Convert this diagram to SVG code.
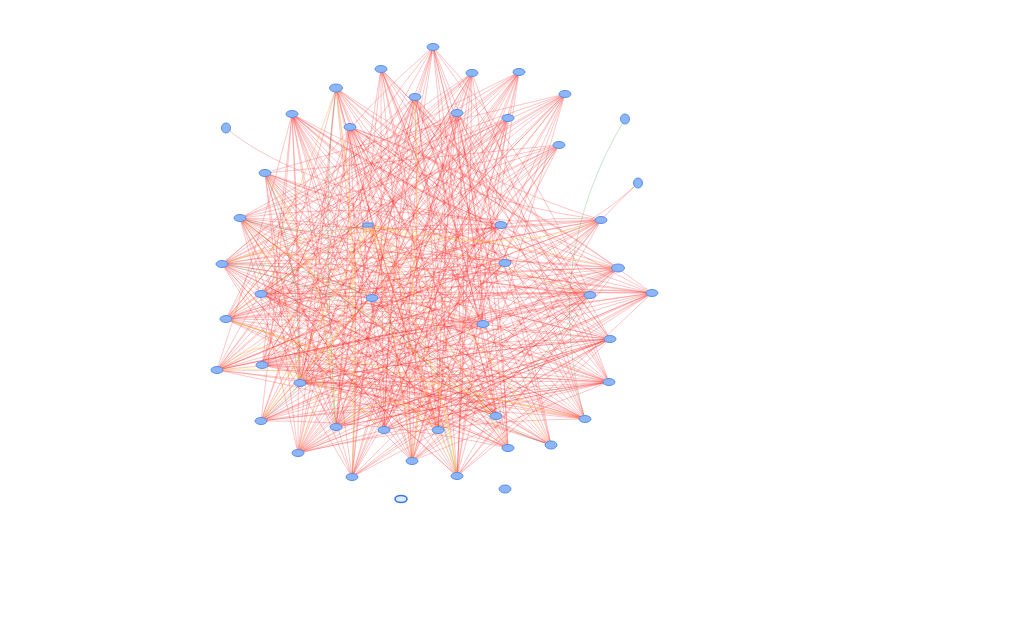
<svg xmlns="http://www.w3.org/2000/svg" width="1035" height="627" viewBox="0 0 1035 627">
<style>
.e path{fill:none;stroke-width:1}
.r path{stroke:#ff2020;stroke-opacity:.26}
.o path{stroke:#ff8c00;stroke-opacity:.3}
.y path{stroke:#f5dc2a;stroke-opacity:.35}
.g path{stroke:#3a9a50;stroke-opacity:.28}
.n ellipse,.n rect{fill:#8cb6f7;stroke:#5b8fe8;stroke-width:1}
.n .sel{fill:#dde9fc;stroke:#3a78e0;stroke-width:1.6}
</style>
<rect width="1035" height="627" fill="#fff"/>
<g id="connectors" class="e">
<g class="r">
<path d="M433 47Q400 250 412 461"/><path d="M433 47Q470 260 457 476"/><path d="M433 47Q390 240 384 430"/><path d="M433 47Q455 240 438 430"/><path d="M433 47Q500 240 508 448"/><path d="M433 47Q360 230 336 427"/><path d="M433 47Q340 200 300 383"/><path d="M433 47Q470 180 483 324"/><path d="M433 47Q390 170 372 298"/><path d="M433 47Q480 230 496 416"/><path d="M433 47Q370 260 352 477"/><path d="M433 47Q320 180 262 365"/><path d="M433 47Q540 190 609 382"/><path d="M433 47Q530 150 590 295"/><path d="M433 47Q300 160 226 319"/><path d="M433 47Q510 230 551 445"/>
<path d="M415 97Q420 280 412 461"/><path d="M415 97Q445 290 457 476"/><path d="M415 97Q470 260 508 448"/><path d="M415 97Q440 270 438 430"/><path d="M415 97Q390 260 384 430"/><path d="M415 97Q360 250 336 427"/><path d="M415 97Q370 290 352 477"/><path d="M415 97Q340 260 298 453"/><path d="M415 97Q340 220 300 383"/><path d="M415 97Q460 200 483 324"/><path d="M415 97Q470 250 496 416"/><path d="M415 97Q500 260 551 445"/><path d="M415 97Q510 240 585 419"/><path d="M415 97Q520 220 609 382"/><path d="M415 97Q510 200 610 339"/><path d="M415 97Q300 210 217 370"/><path d="M415 97Q300 190 226 319"/><path d="M415 97Q320 250 261 421"/>
<path d="M457 113Q410 300 352 477"/><path d="M457 113Q430 290 412 461"/><path d="M457 113Q410 270 384 430"/><path d="M457 113Q390 260 336 427"/><path d="M457 113Q360 270 298 453"/><path d="M457 113Q370 230 300 383"/><path d="M457 113Q350 220 262 365"/><path d="M457 113Q330 220 217 370"/><path d="M457 113Q340 260 261 421"/><path d="M457 113Q330 190 226 319"/><path d="M457 113Q330 170 222 264"/><path d="M457 113Q350 190 261 294"/><path d="M457 113Q490 280 508 448"/><path d="M457 113Q510 270 551 445"/><path d="M457 113Q530 250 585 419"/><path d="M457 113Q540 230 609 382"/><path d="M457 113Q440 270 438 430"/><path d="M457 113Q470 290 457 476"/><path d="M457 113Q480 210 483 324"/><path d="M457 113Q540 210 610 339"/>
<path d="M350 127Q390 290 412 461"/><path d="M350 127Q410 300 457 476"/><path d="M350 127Q400 280 438 430"/><path d="M350 127Q430 260 496 416"/><path d="M350 127Q440 280 508 448"/><path d="M350 127Q460 270 551 445"/><path d="M350 127Q480 250 585 419"/><path d="M350 127Q490 230 609 382"/><path d="M350 127Q490 210 610 339"/><path d="M350 127Q470 190 590 295"/><path d="M350 127Q480 170 618 268"/><path d="M350 127Q500 180 652 293"/><path d="M350 127Q420 210 483 324"/><path d="M350 127Q430 170 505 263"/><path d="M350 127Q370 270 384 430"/><path d="M350 127Q350 270 336 427"/><path d="M350 127Q360 300 352 477"/>
<path d="M472 73Q440 260 412 461"/><path d="M472 73Q420 250 384 430"/><path d="M472 73Q400 240 336 427"/><path d="M472 73Q380 250 298 453"/><path d="M472 73Q380 220 300 383"/><path d="M472 73Q360 200 262 365"/><path d="M472 73Q370 240 261 421"/><path d="M472 73Q410 270 352 477"/><path d="M472 73Q470 270 457 476"/><path d="M472 73Q455 250 438 430"/><path d="M472 73Q500 260 508 448"/><path d="M472 73Q340 180 226 319"/><path d="M472 73Q340 200 217 370"/><path d="M472 73Q340 160 222 264"/><path d="M472 73Q350 180 261 294"/><path d="M472 73Q540 250 585 419"/>
<path d="M381 69Q400 260 412 461"/><path d="M381 69Q430 270 457 476"/><path d="M381 69Q420 250 438 430"/><path d="M381 69Q450 250 508 448"/><path d="M381 69Q450 230 496 416"/><path d="M381 69Q470 250 551 445"/><path d="M381 69Q490 230 585 419"/><path d="M381 69Q500 210 609 382"/><path d="M381 69Q500 190 610 339"/><path d="M381 69Q480 170 590 295"/><path d="M381 69Q430 190 483 324"/><path d="M381 69Q380 250 384 430"/><path d="M381 69Q350 250 336 427"/><path d="M381 69Q360 270 352 477"/>
<path d="M519 72Q470 270 412 461"/><path d="M519 72Q450 260 384 430"/><path d="M519 72Q420 250 336 427"/><path d="M519 72Q400 260 298 453"/><path d="M519 72Q400 220 300 383"/><path d="M519 72Q380 210 262 365"/><path d="M519 72Q390 250 261 421"/><path d="M519 72Q370 200 217 370"/><path d="M519 72Q430 280 352 477"/><path d="M519 72Q370 180 226 319"/><path d="M519 72Q380 180 261 294"/><path d="M519 72Q370 160 222 264"/><path d="M519 72Q380 140 240 218"/><path d="M519 72Q490 270 457 476"/><path d="M519 72Q480 260 438 430"/><path d="M519 72Q440 190 372 298"/>
<path d="M565 94Q480 280 412 461"/><path d="M565 94Q470 260 384 430"/><path d="M565 94Q440 250 336 427"/><path d="M565 94Q420 270 298 453"/><path d="M565 94Q420 230 300 383"/><path d="M565 94Q400 220 262 365"/><path d="M565 94Q400 260 261 421"/><path d="M565 94Q390 210 217 370"/><path d="M565 94Q390 190 226 319"/><path d="M565 94Q390 170 222 264"/><path d="M565 94Q400 190 261 294"/><path d="M565 94Q400 150 240 218"/><path d="M565 94Q410 130 265 173"/><path d="M565 94Q450 280 352 477"/><path d="M565 94Q510 280 457 476"/><path d="M565 94Q500 270 438 430"/><path d="M565 94Q460 200 372 298"/>
<path d="M508 118Q460 290 412 461"/><path d="M508 118Q440 280 384 430"/><path d="M508 118Q420 270 336 427"/><path d="M508 118Q400 280 298 453"/><path d="M508 118Q410 250 300 383"/><path d="M508 118Q390 240 262 365"/><path d="M508 118Q400 270 261 421"/><path d="M508 118Q380 230 217 370"/><path d="M508 118Q380 210 226 319"/><path d="M508 118Q370 190 222 264"/><path d="M508 118Q390 210 261 294"/><path d="M508 118Q380 170 240 218"/><path d="M508 118Q430 300 352 477"/><path d="M508 118Q480 300 457 476"/>
<path d="M559 145Q440 280 336 427"/><path d="M559 145Q460 290 384 430"/><path d="M559 145Q420 300 298 453"/><path d="M559 145Q420 260 300 383"/><path d="M559 145Q410 250 262 365"/><path d="M559 145Q410 280 261 421"/><path d="M559 145Q390 250 217 370"/><path d="M559 145Q390 230 226 319"/><path d="M559 145Q390 200 222 264"/><path d="M559 145Q400 220 261 294"/><path d="M559 145Q400 180 240 218"/><path d="M559 145Q410 160 265 173"/><path d="M559 145Q450 310 352 477"/><path d="M559 145Q480 300 412 461"/>
<path d="M292 114Q450 200 601 220"/><path d="M292 114Q450 220 618 268"/><path d="M292 114Q470 230 652 293"/><path d="M292 114Q440 240 590 295"/><path d="M292 114Q450 260 610 339"/><path d="M292 114Q440 280 609 382"/><path d="M292 114Q430 290 585 419"/><path d="M292 114Q410 300 551 445"/><path d="M292 114Q390 300 508 448"/><path d="M292 114Q390 280 496 416"/><path d="M292 114Q400 190 501 225"/><path d="M292 114Q400 210 505 263"/><path d="M292 114Q370 310 457 476"/><path d="M292 114Q360 300 438 430"/>
<path d="M336 88Q470 180 601 220"/><path d="M336 88Q470 200 618 268"/><path d="M336 88Q490 210 652 293"/><path d="M336 88Q460 220 590 295"/><path d="M336 88Q470 240 610 339"/><path d="M336 88Q460 260 609 382"/><path d="M336 88Q450 270 585 419"/><path d="M336 88Q430 290 551 445"/><path d="M336 88Q410 290 508 448"/><path d="M336 88Q410 270 496 416"/><path d="M336 88Q390 300 457 476"/><path d="M336 88Q380 290 438 430"/><path d="M336 88Q360 290 412 461"/>
<path d="M265 173Q430 230 601 220"/><path d="M265 173Q440 240 618 268"/><path d="M265 173Q460 250 652 293"/><path d="M265 173Q430 260 590 295"/><path d="M265 173Q440 280 610 339"/><path d="M265 173Q430 300 609 382"/><path d="M265 173Q420 310 585 419"/><path d="M265 173Q400 320 551 445"/><path d="M265 173Q380 320 508 448"/><path d="M265 173Q380 300 496 416"/>
<path d="M240 218Q420 240 601 220"/><path d="M240 218Q430 260 618 268"/><path d="M240 218Q450 270 652 293"/><path d="M240 218Q420 280 590 295"/><path d="M240 218Q430 300 610 339"/><path d="M240 218Q420 310 609 382"/><path d="M240 218Q410 330 585 419"/><path d="M240 218Q390 340 551 445"/><path d="M240 218Q370 340 508 448"/><path d="M240 218Q370 320 496 416"/><path d="M240 218Q370 200 501 225"/><path d="M240 218Q370 220 505 263"/><path d="M240 218Q360 260 483 324"/>
<path d="M222 264Q420 230 601 220"/><path d="M222 264Q420 250 618 268"/><path d="M222 264Q440 260 652 293"/><path d="M222 264Q410 270 590 295"/><path d="M222 264Q420 290 610 339"/><path d="M222 264Q410 310 609 382"/><path d="M222 264Q400 330 585 419"/><path d="M222 264Q380 340 551 445"/><path d="M222 264Q360 350 508 448"/><path d="M222 264Q360 330 496 416"/><path d="M222 264Q360 220 501 225"/><path d="M222 264Q360 240 505 263"/><path d="M222 264Q350 280 483 324"/><path d="M222 264Q330 340 438 430"/><path d="M222 264Q330 360 457 476"/>
<path d="M226 319Q420 250 601 220"/><path d="M226 319Q420 270 618 268"/><path d="M226 319Q440 290 652 293"/><path d="M226 319Q410 300 590 295"/><path d="M226 319Q420 320 610 339"/><path d="M226 319Q410 340 609 382"/><path d="M226 319Q400 360 585 419"/><path d="M226 319Q380 370 551 445"/><path d="M226 319Q370 380 508 448"/><path d="M226 319Q360 360 496 416"/><path d="M226 319Q360 260 501 225"/><path d="M226 319Q360 280 505 263"/><path d="M226 319Q350 310 483 324"/><path d="M226 319Q330 370 438 430"/>
<path d="M261 294Q430 250 601 220"/><path d="M261 294Q440 270 618 268"/><path d="M261 294Q460 280 652 293"/><path d="M261 294Q430 290 590 295"/><path d="M261 294Q430 320 610 339"/><path d="M261 294Q430 340 609 382"/><path d="M261 294Q420 360 585 419"/><path d="M261 294Q380 350 496 416"/><path d="M261 294Q380 250 501 225"/><path d="M261 294Q380 270 505 263"/><path d="M261 294Q370 300 483 324"/>
<path d="M262 365Q430 280 601 220"/><path d="M262 365Q440 300 618 268"/><path d="M262 365Q460 320 652 293"/><path d="M262 365Q430 320 590 295"/><path d="M262 365Q440 340 610 339"/><path d="M262 365Q430 360 609 382"/><path d="M262 365Q420 380 585 419"/><path d="M262 365Q380 290 501 225"/><path d="M262 365Q380 300 505 263"/><path d="M262 365Q370 330 483 324"/><path d="M262 365Q300 220 336 88"/><path d="M262 365Q280 230 292 114"/><path d="M262 365Q310 240 350 127"/>
<path d="M217 370Q410 290 601 220"/><path d="M217 370Q420 310 618 268"/><path d="M217 370Q440 320 652 293"/><path d="M217 370Q410 330 590 295"/><path d="M217 370Q420 350 610 339"/><path d="M217 370Q410 370 609 382"/><path d="M217 370Q400 390 585 419"/><path d="M217 370Q360 300 501 225"/><path d="M217 370Q360 310 505 263"/><path d="M217 370Q350 340 483 324"/><path d="M217 370Q260 240 292 114"/>
<path d="M300 383Q450 300 601 220"/><path d="M300 383Q460 320 618 268"/><path d="M300 383Q480 330 652 293"/><path d="M300 383Q450 330 590 295"/><path d="M300 383Q460 350 610 339"/><path d="M300 383Q450 380 609 382"/><path d="M300 383Q440 390 585 419"/><path d="M300 383Q400 300 501 225"/><path d="M300 383Q400 310 505 263"/><path d="M300 383Q390 340 483 324"/><path d="M300 383Q320 240 336 88"/><path d="M300 383Q300 250 292 114"/><path d="M300 383Q280 280 265 173"/><path d="M300 383Q270 300 240 218"/><path d="M300 383Q330 260 350 127"/>
<path d="M261 421Q430 320 601 220"/><path d="M261 421Q440 340 618 268"/><path d="M261 421Q460 350 652 293"/><path d="M261 421Q430 350 590 295"/><path d="M261 421Q440 370 610 339"/><path d="M261 421Q430 400 609 382"/><path d="M261 421Q380 320 501 225"/><path d="M261 421Q380 330 505 263"/><path d="M261 421Q370 370 483 324"/><path d="M261 421Q280 270 292 114"/><path d="M261 421Q310 280 350 127"/>
<path d="M298 453Q450 340 601 220"/><path d="M298 453Q460 360 618 268"/><path d="M298 453Q480 370 652 293"/><path d="M298 453Q450 370 590 295"/><path d="M298 453Q460 390 610 339"/><path d="M298 453Q450 420 609 382"/><path d="M298 453Q400 340 501 225"/><path d="M298 453Q400 350 505 263"/><path d="M298 453Q390 390 483 324"/><path d="M298 453Q300 280 292 114"/><path d="M298 453Q330 290 350 127"/><path d="M298 453Q320 270 336 88"/><path d="M298 453Q280 310 265 173"/><path d="M298 453Q270 330 240 218"/>
<path d="M336 427Q470 330 601 220"/><path d="M336 427Q480 340 618 268"/><path d="M336 427Q490 360 652 293"/><path d="M336 427Q460 360 590 295"/><path d="M336 427Q470 380 610 339"/><path d="M336 427Q470 400 609 382"/><path d="M336 427Q420 330 501 225"/><path d="M336 427Q420 340 505 263"/><path d="M336 427Q320 270 292 114"/><path d="M336 427Q300 300 265 173"/><path d="M336 427Q290 320 240 218"/><path d="M336 427Q280 340 222 264"/>
<path d="M384 430Q490 320 601 220"/><path d="M384 430Q500 340 618 268"/><path d="M384 430Q510 350 652 293"/><path d="M384 430Q490 360 590 295"/><path d="M384 430Q500 380 610 339"/><path d="M384 430Q340 270 292 114"/><path d="M384 430Q320 300 265 173"/><path d="M384 430Q310 320 240 218"/><path d="M384 430Q300 350 222 264"/><path d="M384 430Q350 260 336 88"/>
<path d="M438 430Q520 320 601 220"/><path d="M438 430Q530 340 618 268"/><path d="M438 430Q540 350 652 293"/><path d="M438 430Q520 360 590 295"/><path d="M438 430Q520 390 610 339"/><path d="M438 430Q370 270 292 114"/><path d="M438 430Q350 300 265 173"/><path d="M438 430Q340 320 240 218"/><path d="M438 430Q380 260 336 88"/>
<path d="M412 461Q510 340 601 220"/><path d="M412 461Q520 360 618 268"/><path d="M412 461Q530 370 652 293"/><path d="M412 461Q510 380 590 295"/><path d="M412 461Q510 400 610 339"/><path d="M412 461Q510 420 609 382"/><path d="M412 461Q350 290 292 114"/><path d="M412 461Q330 320 265 173"/><path d="M412 461Q320 340 240 218"/><path d="M412 461Q310 360 222 264"/>
<path d="M352 477Q480 350 601 220"/><path d="M352 477Q490 370 618 268"/><path d="M352 477Q500 380 652 293"/><path d="M352 477Q480 390 590 295"/><path d="M352 477Q480 410 610 339"/><path d="M352 477Q330 300 292 114"/><path d="M352 477Q310 330 265 173"/><path d="M352 477Q300 350 240 218"/><path d="M352 477Q290 370 222 264"/>
<path d="M457 476Q530 350 601 220"/><path d="M457 476Q540 370 618 268"/><path d="M457 476Q560 380 652 293"/><path d="M457 476Q530 390 590 295"/><path d="M457 476Q540 410 610 339"/><path d="M457 476Q360 330 265 173"/><path d="M457 476Q350 350 240 218"/><path d="M457 476Q350 380 261 294"/>
<path d="M508 448Q400 400 300 383"/><path d="M508 448Q380 390 262 365"/><path d="M508 448Q370 400 217 370"/><path d="M508 448Q380 360 261 294"/><path d="M508 448Q380 420 261 421"/><path d="M508 448Q440 360 372 298"/>
<path d="M496 416Q400 380 300 383"/><path d="M496 416Q380 370 262 365"/><path d="M496 416Q430 350 372 298"/>
<path d="M551 445Q430 400 300 383"/><path d="M551 445Q410 390 262 365"/><path d="M551 445Q410 360 261 294"/><path d="M551 445Q390 390 217 370"/>
<path d="M585 419Q440 380 300 383"/><path d="M585 419Q430 370 262 365"/><path d="M585 419Q420 350 261 294"/><path d="M585 419Q420 400 261 421"/><path d="M585 419Q440 420 298 453"/>
<path d="M609 382Q450 370 300 383"/><path d="M609 382Q430 390 261 421"/><path d="M609 382Q450 410 298 453"/><path d="M609 382Q470 400 336 427"/><path d="M609 382Q500 400 384 430"/>
<path d="M610 339Q460 350 300 383"/><path d="M610 339Q470 380 336 427"/><path d="M610 339Q500 380 384 430"/><path d="M610 339Q460 390 298 453"/>
<path d="M652 293Q510 290 372 298"/><path d="M638 183Q620 200 601 220"/><path d="M638 183Q615 205 590 220"/>
<path d="M226 128Q300 190 501 225"/>
<path d="M372 298Q490 250 601 220"/><path d="M372 298Q500 280 618 268"/><path d="M372 298Q440 250 501 225"/><path d="M372 298Q300 270 240 218"/><path d="M372 298Q300 290 226 319"/><path d="M372 298Q300 340 217 370"/><path d="M372 298Q480 340 609 382"/><path d="M372 298Q470 360 585 419"/>
<path d="M483 324Q550 300 618 268"/><path d="M483 324Q560 280 652 293"/><path d="M483 324Q400 290 261 294"/><path d="M505 263Q560 240 601 220"/><path d="M501 225Q560 215 601 220"/><path d="M505 263Q400 360 298 453"/>
</g>
<g class="o">
<path d="M368 225Q480 260 590 295"/><path d="M368 225Q490 240 618 268"/><path d="M368 225Q430 270 483 324"/><path d="M368 225Q410 330 438 430"/><path d="M368 225Q400 350 412 461"/><path d="M368 225Q290 270 226 319"/><path d="M368 225Q290 240 222 264"/><path d="M368 225Q300 330 217 370"/><path d="M226 319Q330 350 438 430"/><path d="M222 264Q300 230 372 298"/><path d="M217 370Q280 320 300 383"/><path d="M226 319Q270 280 336 88"/><path d="M240 218Q300 300 300 383"/>
</g>
<g class="y">
<path d="M368 225Q440 350 457 476"/><path d="M368 225Q450 340 508 448"/><path d="M368 225Q470 320 551 445"/><path d="M368 225Q320 330 261 421"/><path d="M368 225Q330 360 298 453"/><path d="M457 476Q420 360 336 427"/><path d="M457 476Q430 300 412 461"/><path d="M217 370Q320 360 384 430"/><path d="M261 421Q340 330 372 298"/><path d="M265 173Q330 270 336 427"/><path d="M226 319Q400 380 585 419"/><path d="M415 97Q420 200 412 300"/><path d="M336 88Q360 230 352 477"/><path d="M240 218Q350 300 496 416"/><path d="M601 220Q500 260 368 225"/>
</g>
<g class="g">
<path d="M625 119Q540 260 585 419"/><path d="M368 225Q300 240 240 218"/><path d="M261 421Q290 400 300 383"/><path d="M265 173Q300 250 300 383"/><path d="M222 264Q300 260 372 298"/><path d="M457 476Q440 400 438 430"/><path d="M496 416Q540 360 590 295"/><path d="M336 88Q320 200 336 427"/><path d="M372 298Q460 420 551 445"/><path d="M222 264Q400 300 496 416"/>
</g>
</g>
<g id="nodes" class="n">
<g id="n1"><ellipse cx="433" cy="47" rx="6" ry="3.5"/></g>
<g id="n2"><ellipse cx="381" cy="69" rx="6" ry="3.5"/></g>
<g id="n3"><ellipse cx="472" cy="73" rx="6" ry="3.5"/></g>
<g id="n4"><ellipse cx="519" cy="72" rx="6" ry="3.5"/></g>
<g id="n5"><ellipse cx="336" cy="88" rx="6.5" ry="4"/></g>
<g id="n6"><ellipse cx="415" cy="97" rx="6" ry="3.5"/></g>
<g id="n7"><ellipse cx="565" cy="94" rx="6" ry="3.5"/></g>
<g id="n8"><ellipse cx="292" cy="114" rx="6" ry="3.5"/></g>
<g id="n9"><ellipse cx="457" cy="113" rx="6" ry="3.5"/></g>
<g id="n10"><ellipse cx="508" cy="118" rx="6" ry="3.5"/></g>
<g id="n11"><ellipse cx="226" cy="128" rx="4.5" ry="5"/></g>
<g id="n12"><ellipse cx="350" cy="127" rx="6" ry="3.5"/></g>
<g id="n13"><ellipse cx="625" cy="119" rx="4.5" ry="5"/></g>
<g id="n14"><ellipse cx="559" cy="145" rx="6" ry="3.5"/></g>
<g id="n15"><ellipse cx="638" cy="183" rx="4.5" ry="5"/></g>
<g id="n16"><ellipse cx="265" cy="173" rx="6" ry="3.5"/></g>
<g id="n17"><ellipse cx="240" cy="218" rx="6" ry="3.5"/></g>
<g id="n18"><ellipse cx="601" cy="220" rx="6" ry="3.5"/></g>
<g id="n19"><rect x="363" y="223" width="10" height="4"/></g>
<g id="n20"><ellipse cx="501" cy="225" rx="6" ry="3.5"/></g>
<g id="n21"><ellipse cx="222" cy="264" rx="6" ry="3.5"/></g>
<g id="n22"><ellipse cx="618" cy="268" rx="6.5" ry="4"/></g>
<g id="n23"><ellipse cx="505" cy="263" rx="6" ry="3.5"/></g>
<g id="n24"><ellipse cx="261" cy="294" rx="6" ry="3.5"/></g>
<g id="n25"><ellipse cx="372" cy="298" rx="6" ry="3.5"/></g>
<g id="n26"><ellipse cx="590" cy="295" rx="6" ry="3.5"/></g>
<g id="n27"><ellipse cx="652" cy="293" rx="6" ry="3.5"/></g>
<g id="n28"><ellipse cx="226" cy="319" rx="6" ry="3.5"/></g>
<g id="n29"><ellipse cx="483" cy="324" rx="6" ry="3.5"/></g>
<g id="n30"><ellipse cx="610" cy="339" rx="6" ry="3.5"/></g>
<g id="n31"><ellipse cx="262" cy="365" rx="6" ry="3.5"/></g>
<g id="n32"><ellipse cx="217" cy="370" rx="6" ry="3.5"/></g>
<g id="n33"><ellipse cx="300" cy="383" rx="6" ry="3.5"/></g>
<g id="n34"><ellipse cx="609" cy="382" rx="6" ry="3.5"/></g>
<g id="n35"><ellipse cx="261" cy="421" rx="6" ry="3.5"/></g>
<g id="n36"><ellipse cx="336" cy="427" rx="6" ry="3.5"/></g>
<g id="n37"><ellipse cx="384" cy="430" rx="6" ry="3.5"/></g>
<g id="n38"><ellipse cx="438" cy="430" rx="6" ry="3.5"/></g>
<g id="n39"><ellipse cx="496" cy="416" rx="6" ry="3.5"/></g>
<g id="n40"><ellipse cx="585" cy="419" rx="6" ry="3.5"/></g>
<g id="n41"><ellipse cx="551" cy="445" rx="6" ry="4"/></g>
<g id="n42"><ellipse cx="508" cy="448" rx="6" ry="3.5"/></g>
<g id="n43"><ellipse cx="298" cy="453" rx="6" ry="3.5"/></g>
<g id="n44"><ellipse cx="412" cy="461" rx="6" ry="3.5"/></g>
<g id="n45"><ellipse cx="352" cy="477" rx="6" ry="3.5"/></g>
<g id="n46"><ellipse cx="457" cy="476" rx="6" ry="3.5"/></g>
<g id="n47"><ellipse cx="505" cy="489" rx="6" ry="4"/></g>
<g id="n48"><ellipse class="sel" cx="401" cy="499" rx="6" ry="3.5"/></g>
</g>
</svg>
